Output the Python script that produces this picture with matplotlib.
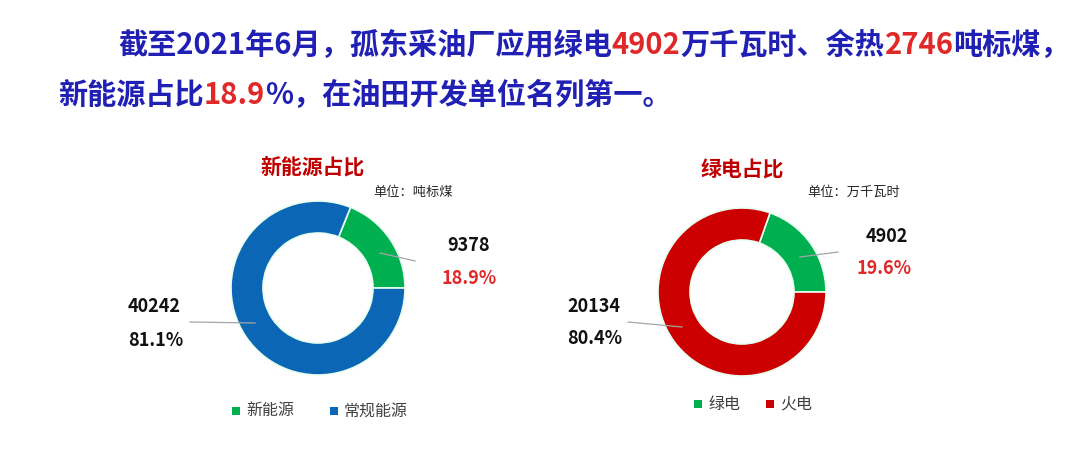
import matplotlib
matplotlib.use("Agg")
import matplotlib.pyplot as plt
from matplotlib.patches import Rectangle

plt.rcParams['font.family'] = ['Noto Sans CJK SC', 'DejaVu Sans']

# ---- data ----
header_line1 = [("截至2021年6月，孤东采油厂应用绿电", "blue"), ("4902", "red"),
                ("万千瓦时、余热", "blue"), ("2746", "red"), ("吨标煤，", "blue")]
header_line2 = [("新能源占比", "blue"), ("18.9", "red"), ("%，在油田开发单位名列第一。", "blue")]

energy_labels = ["新能源", "常规能源"]
energy_values = [9378, 40242]
energy_pcts = ["18.9%", "81.1%"]
energy_title = "新能源占比"
energy_unit = "单位：吨标煤"

power_labels = ["绿电", "火电"]
power_values = [4902, 20134]
power_pcts = ["19.6%", "80.4%"]
power_title = "绿电占比"
power_unit = "单位：万千瓦时"

W, H = 1080, 465
fig = plt.figure(figsize=(W / 100, H / 100), dpi=100)
ax = fig.add_axes([0, 0, 1, 1])

def Y(y):
    return H - y

BLUE_TXT = "#2020B4"
RED_TXT = "#E02828"
TITLE_RED = "#C00000"
GREEN = "#00B050"
BLUE = "#0B67B5"
RED = "#CC0000"
GRAY_LINE = "#A6A6A6"

def donut(cx, cy, R, r, values, colors):
    ax.pie(values, colors=colors, startangle=0, counterclock=True,
           center=(cx, Y(cy)), radius=R,
           wedgeprops=dict(width=R - r, edgecolor="#E8FFF0", linewidth=1.2))

donut(318, 288, 87, 55, energy_values, [GREEN, BLUE])
donut(742, 292, 84, 52, power_values, [GREEN, RED])

ax.set_xlim(0, W)
ax.set_ylim(0, H)
ax.set_aspect('equal')
ax.axis('off')

# ---- header text (multi-colour segments) ----
fig.canvas.draw()
renderer = fig.canvas.get_renderer()

def seg_text(x0, y, segs, size):
    x = x0
    for s, c in segs:
        col = BLUE_TXT if c == "blue" else RED_TXT
        t = ax.text(x, Y(y), s, fontsize=size, fontweight='bold', color=col,
                    ha='left', va='center')
        bb = t.get_window_extent(renderer=renderer)
        x += bb.width

seg_text(118, 45, header_line1, 21)
seg_text(58, 95, header_line2, 21)

# ---- titles and units ----
ax.text(313, Y(167), energy_title, fontsize=15, fontweight='bold', color=TITLE_RED,
        ha='center', va='center')
ax.text(373, Y(192), energy_unit, fontsize=9.5, color="#262626", ha='left', va='center')
ax.text(742, Y(170), power_title, fontsize=15, fontweight='bold', color=TITLE_RED,
        ha='center', va='center')
ax.text(807, Y(192), power_unit, fontsize=9.5, color="#262626", ha='left', va='center')

# ---- data labels ----
lab_fs = 13
# energy chart
ax.text(469, Y(246), f"{energy_values[0]}", fontsize=lab_fs, fontweight='bold', color="#111111",
        ha='center', va='center')
ax.text(469, Y(279), energy_pcts[0], fontsize=lab_fs, fontweight='bold', color=RED_TXT,
        ha='center', va='center')
ax.text(128, Y(306), f"{energy_values[1]}", fontsize=lab_fs, fontweight='bold', color="#111111",
        ha='left', va='center')
ax.text(128, Y(340), energy_pcts[1], fontsize=lab_fs, fontweight='bold', color="#111111",
        ha='left', va='center')
ax.plot([380, 415], [Y(253), Y(261)], color=GRAY_LINE, lw=0.9)
ax.plot([190, 255], [Y(322), Y(323)], color=GRAY_LINE, lw=0.9)

# power chart
ax.text(887, Y(237), f"{power_values[0]}", fontsize=lab_fs, fontweight='bold', color="#111111",
        ha='center', va='center')
ax.text(884, Y(268), power_pcts[0], fontsize=lab_fs, fontweight='bold', color=RED_TXT,
        ha='center', va='center')
ax.text(567, Y(306), f"{power_values[1]}", fontsize=lab_fs, fontweight='bold', color="#111111",
        ha='left', va='center')
ax.text(567, Y(339), power_pcts[1], fontsize=lab_fs, fontweight='bold', color="#111111",
        ha='left', va='center')
ax.plot([800, 838], [Y(257), Y(252)], color=GRAY_LINE, lw=0.9)
ax.plot([628, 682], [Y(322), Y(327)], color=GRAY_LINE, lw=0.9)

# ---- legends ----
def legend_item(x, y, color, label):
    ax.add_patch(Rectangle((x - 4, Y(y) - 4), 8, 8, color=color, lw=0))
    ax.text(x + 10, Y(y), label, fontsize=11.5, color="#404040", ha='left', va='center')

legend_item(236, 411, GREEN, energy_labels[0])
legend_item(334, 411, BLUE, energy_labels[1])
legend_item(698, 404, GREEN, power_labels[0])
legend_item(770, 404, RED, power_labels[1])

fig.savefig("out.png", dpi=100)
